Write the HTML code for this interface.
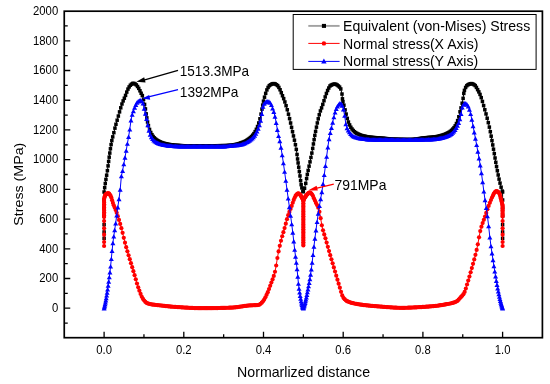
<!DOCTYPE html>
<html><head><meta charset="utf-8"><style>
html,body{margin:0;padding:0;background:#fff;}
body{width:550px;height:384px;overflow:hidden;}
svg{display:block;}
text{font-family:"Liberation Sans",Arial,sans-serif;fill:#000;}
</style></head><body>
<svg width="550" height="384" viewBox="0 0 550 384">
<rect x="64.25" y="11.2" width="478.15" height="326.5" fill="none" stroke="#000" stroke-width="1.7"/>
<path d="M64.25 323.06h3.5M64.25 308.2h6M64.25 293.34h3.5M64.25 278.49h6M64.25 263.63h3.5M64.25 248.78h6M64.25 233.93h3.5M64.25 219.07h6M64.25 204.22h3.5M64.25 189.36h6M64.25 174.5h3.5M64.25 159.65h6M64.25 144.8h3.5M64.25 129.94h6M64.25 115.09h3.5M64.25 100.23h6M64.25 85.38h3.5M64.25 70.52h6M64.25 55.67h3.5M64.25 40.81h6M64.25 25.95h3.5M104.1 337.7v-6M143.95 337.7v-3.5M183.8 337.7v-6M223.65 337.7v-3.5M263.5 337.7v-6M303.35 337.7v-3.5M343.2 337.7v-6M383.05 337.7v-3.5M422.9 337.7v-6M462.75 337.7v-3.5M502.6 337.7v-6" stroke="#000" stroke-width="1.3" fill="none"/>
<g font-size="12"><text x="58.2" y="311.95" text-anchor="end" textLength="6.28" lengthAdjust="spacingAndGlyphs">0</text><text x="58.2" y="282.24" text-anchor="end" textLength="18.85" lengthAdjust="spacingAndGlyphs">200</text><text x="58.2" y="252.53" text-anchor="end" textLength="18.85" lengthAdjust="spacingAndGlyphs">400</text><text x="58.2" y="222.82" text-anchor="end" textLength="18.85" lengthAdjust="spacingAndGlyphs">600</text><text x="58.2" y="193.11" text-anchor="end" textLength="18.85" lengthAdjust="spacingAndGlyphs">800</text><text x="58.2" y="163.4" text-anchor="end" textLength="25.14" lengthAdjust="spacingAndGlyphs">1000</text><text x="58.2" y="133.69" text-anchor="end" textLength="25.14" lengthAdjust="spacingAndGlyphs">1200</text><text x="58.2" y="103.98" text-anchor="end" textLength="25.14" lengthAdjust="spacingAndGlyphs">1400</text><text x="58.2" y="74.27" text-anchor="end" textLength="25.14" lengthAdjust="spacingAndGlyphs">1600</text><text x="58.2" y="44.56" text-anchor="end" textLength="25.14" lengthAdjust="spacingAndGlyphs">1800</text><text x="58.2" y="14.85" text-anchor="end" textLength="25.14" lengthAdjust="spacingAndGlyphs">2000</text><text x="104.1" y="354.1" text-anchor="middle" textLength="15.71" lengthAdjust="spacingAndGlyphs">0.0</text><text x="183.8" y="354.1" text-anchor="middle" textLength="15.71" lengthAdjust="spacingAndGlyphs">0.2</text><text x="263.5" y="354.1" text-anchor="middle" textLength="15.71" lengthAdjust="spacingAndGlyphs">0.4</text><text x="343.2" y="354.1" text-anchor="middle" textLength="15.71" lengthAdjust="spacingAndGlyphs">0.6</text><text x="422.9" y="354.1" text-anchor="middle" textLength="15.71" lengthAdjust="spacingAndGlyphs">0.8</text><text x="502.6" y="354.1" text-anchor="middle" textLength="15.71" lengthAdjust="spacingAndGlyphs">1.0</text></g>
<text x="303.6" y="376.6" font-size="13.9" text-anchor="middle" textLength="133" lengthAdjust="spacingAndGlyphs">Normarlized distance</text>
<text transform="translate(23.1 184.2) rotate(-90)" font-size="13.2" text-anchor="middle" textLength="83" lengthAdjust="spacingAndGlyphs">Stress (MPa)</text>
<defs>
<marker id="ms" markerWidth="6" markerHeight="6" refX="3" refY="3" markerUnits="userSpaceOnUse"><rect x="1.25" y="1.25" width="3.5" height="3.5" fill="#000"/></marker>
<marker id="mc" markerWidth="6" markerHeight="6" refX="3" refY="3" markerUnits="userSpaceOnUse"><circle cx="3" cy="3" r="2.1" fill="#f00"/></marker>
<marker id="mt" markerWidth="7" markerHeight="7" refX="3.5" refY="3.5" markerUnits="userSpaceOnUse"><path d="M3.5 1.3L6 5.7H1Z" fill="#00f"/></marker>
</defs>
<polyline points="104.1,238.3 104.1,232 104.1,224.7 104.1,216 104.1,208 104.1,200 104.1,192 104.67,187.73 105.27,183.51 105.92,179.41 106.64,175.22 107.4,170.66 108.07,165.88 108.64,161.42 109.19,157.17 109.79,153.06 110.43,148.77 111.1,144.6 111.83,140.63 112.72,136.89 113.86,132.68 114.93,128.16 115.95,124.27 117.15,120.21 118.35,116.04 119.55,111.88 120.75,107.82 121.95,104.02 123.15,100.92 124.35,98.21 125.55,95.38 126.75,92.11 127.95,89.1 129.15,86.94 130.35,85.24 131.55,84.16 132.75,83.41 133.95,83.41 135.15,83.99 136.35,84.92 137.55,86.5 138.75,88.39 139.95,90.78 141.15,93.25 142.35,95.57 143.55,99.37 144.58,104.38 145.44,108.91 146.2,113.89 146.83,117.87 147.56,121.99 148.41,125.57 149.54,129.4 150.74,132.48 151.94,134.68 153.14,136.45 154.34,137.86 155.54,138.98 156.74,139.92 157.94,140.72 159.14,141.39 160.34,141.95 161.54,142.45 162.74,142.89 163.94,143.27 165.14,143.6 166.34,143.87 167.54,144.12 168.74,144.36 169.94,144.57 171.14,144.76 172.34,144.93 173.54,145.07 174.74,145.18 175.94,145.27 177.14,145.36 178.34,145.44 179.54,145.52 180.74,145.59 181.94,145.66 183.14,145.72 184.34,145.78 185.54,145.82 186.74,145.86 187.94,145.88 189.14,145.9 190.34,145.9 191.54,145.9 192.74,145.9 193.94,145.9 195.14,145.89 196.34,145.89 197.54,145.89 198.74,145.88 199.94,145.88 201.14,145.87 202.34,145.87 203.54,145.86 204.74,145.85 205.94,145.84 207.14,145.83 208.34,145.82 209.54,145.81 210.74,145.8 211.94,145.79 213.14,145.78 214.34,145.76 215.54,145.75 216.74,145.73 217.94,145.72 219.14,145.7 220.34,145.68 221.54,145.66 222.74,145.64 223.94,145.62 225.14,145.6 226.34,145.56 227.54,145.49 228.74,145.39 229.94,145.28 231.14,145.14 232.34,144.99 233.54,144.82 234.74,144.64 235.94,144.42 237.14,144.13 238.34,143.77 239.54,143.38 240.74,142.99 241.94,142.57 243.14,142.11 244.34,141.6 245.54,141.03 246.74,140.33 247.94,139.53 249.14,138.63 250.34,137.63 251.54,136.5 252.74,135.19 253.94,133.6 255.14,131.62 256.34,129.29 257.54,126.49 258.74,122.99 259.94,118.81 261.04,114.11 261.96,109.14 262.68,105.06 263.5,101.12 264.51,97.18 265.68,93.34 266.88,89.93 268.08,87.42 269.28,85.68 270.48,84.8 271.68,84.13 272.88,83.7 274.08,83.62 275.28,83.99 276.48,84.71 277.68,85.66 278.88,87.43 280.08,89.76 281.28,92.67 282.48,95.73 283.68,98.64 284.88,101.95 286.08,105.7 287.28,109.75 288.48,114.2 289.57,118.63 290.6,123.01 291.57,127.37 292.53,131.7 293.47,135.93 294.45,140.19 295.43,144.71 296.3,149.4 297.04,154.49 297.57,158.97 298.1,162.95 298.71,167.2 299.35,171.59 299.98,175.94 300.6,180.6 301.15,184.66 301.84,187.87 302.89,191.23 303.35,191.8 304.55,188.29 305.74,183.4 306.6,178.56 307.32,174.41 308.15,170.41 309.08,166.15 310.01,161.85 310.94,157.48 311.84,153.09 312.69,148.45 313.42,143.94 314.12,139.61 314.82,135.43 315.59,131.4 316.45,127.14 317.33,122.94 318.25,118.8 319.26,114.77 320.39,110.93 321.59,107.87 322.79,104.4 323.99,100.73 325.19,96.91 326.39,93.46 327.59,90.47 328.79,88.01 329.99,85.97 331.19,85.09 332.39,84.57 333.59,84.23 334.79,84.1 335.99,84.35 337.19,85.02 338.39,85.96 339.59,87.08 340.79,88.94 341.99,94.05 342.44,98.82 342.93,101.65 343.91,105.18 345.11,109.9 346.16,114.08 347.29,118.37 348.42,122.03 349.62,124.92 350.82,127.25 352.02,129.02 353.22,130.49 354.42,131.7 355.62,132.62 356.82,133.34 358.02,133.98 359.22,134.54 360.42,135.02 361.62,135.44 362.82,135.78 364.02,136.08 365.22,136.34 366.42,136.58 367.62,136.8 368.82,136.99 370.02,137.15 371.22,137.3 372.42,137.42 373.62,137.53 374.82,137.62 376.02,137.71 377.22,137.8 378.42,137.88 379.62,137.97 380.82,138.07 382.02,138.17 383.22,138.28 384.42,138.4 385.62,138.51 386.82,138.63 388.02,138.74 389.22,138.84 390.42,138.94 391.62,139.03 392.82,139.1 394.02,139.16 395.22,139.21 396.42,139.24 397.62,139.28 398.82,139.32 400.02,139.35 401.22,139.38 402.42,139.41 403.62,139.43 404.82,139.45 406.02,139.47 407.22,139.49 408.42,139.5 409.62,139.5 410.82,139.49 412.02,139.44 413.22,139.35 414.42,139.24 415.62,139.1 416.82,138.94 418.02,138.77 419.22,138.59 420.42,138.41 421.62,138.23 422.82,138.06 424.02,137.91 425.22,137.78 426.42,137.66 427.62,137.56 428.82,137.46 430.02,137.36 431.22,137.26 432.42,137.15 433.62,137.02 434.82,136.88 436.02,136.71 437.22,136.49 438.42,136.24 439.62,135.94 440.82,135.62 442.02,135.26 443.22,134.88 444.42,134.46 445.62,133.99 446.82,133.44 448.02,132.82 449.22,132.11 450.42,131.3 451.62,130.29 452.82,129.07 454.02,127.63 455.22,125.84 456.42,123.53 457.62,120.58 458.82,116.76 460.02,111.78 461,107.93 462.15,103.2 463.11,98.35 463.8,93.42 464.44,90.35 465.63,87.46 466.83,85.66 468.03,84.71 469.23,84.11 470.43,83.71 471.63,83.61 472.83,83.96 474.03,84.67 475.23,85.61 476.43,87.42 477.63,89.66 478.83,91.87 480.03,94.41 481.23,97.65 482.43,101.44 483.63,105.59 484.82,109.75 486.02,113.94 487.18,118.24 488.31,122.64 489.36,127.12 490.32,131.71 491.17,136.18 491.97,140.58 492.74,144.92 493.52,149.22 494.3,153.64 495.05,158 495.8,162.31 496.55,166.56 497.34,170.74 498.19,174.99 499.06,179.12 500.02,183.12 501.1,187.18 502.29,191.1 502.6,192 502.6,200 502.6,208 502.6,216 502.6,224.7 502.6,232 502.6,238.3" fill="none" stroke="#000" stroke-width="1" marker-start="url(#ms)" marker-mid="url(#ms)" marker-end="url(#ms)"/>
<polyline points="104.1,246 104.1,242 104.1,234.7 104.1,228.3 104.1,221 104.1,217 104.1,215.4 104.1,213.8 104.1,212.2 104.1,210.6 104.1,209 104.1,207.4 104.1,205.8 104.1,204.2 104.1,202.6 104.1,201 104.1,199 104.4,197.73 104.72,196.55 105.06,195.58 105.42,194.93 105.81,194.4 106.22,193.98 106.65,193.73 107.12,193.53 107.61,193.37 108.13,193.3 108.69,193.45 109.29,193.95 109.92,194.75 110.6,195.76 111.32,197.57 112.08,200.19 112.89,202.88 113.76,205.24 114.68,207.61 115.66,210.09 116.7,212.87 117.81,216.14 118.99,219.9 120.19,223.95 121.39,228.21 122.59,232.82 123.79,237.79 124.99,242.71 126.19,247.21 127.39,251.32 128.59,255.26 129.79,259.18 130.99,263.17 132.19,267.16 133.39,271.15 134.59,275.14 135.79,279.3 136.99,283.48 138.19,287.34 139.39,290.71 140.59,293.92 141.79,296.74 142.99,298.89 144.19,300.52 145.39,301.89 146.59,302.88 147.79,303.43 148.99,303.8 150.19,304.1 151.39,304.34 152.59,304.54 153.79,304.72 154.99,304.87 156.19,305 157.39,305.13 158.59,305.24 159.79,305.37 160.99,305.5 162.19,305.63 163.39,305.77 164.59,305.91 165.79,306.05 166.99,306.18 168.19,306.31 169.39,306.44 170.59,306.55 171.79,306.66 172.99,306.76 174.19,306.84 175.39,306.92 176.59,307.01 177.79,307.09 178.99,307.17 180.19,307.25 181.39,307.33 182.59,307.41 183.79,307.49 184.99,307.57 186.19,307.64 187.39,307.71 188.59,307.77 189.79,307.84 190.99,307.9 192.19,307.95 193.39,308 194.59,308.05 195.79,308.09 196.99,308.12 198.19,308.15 199.39,308.17 200.59,308.19 201.79,308.2 202.99,308.2 204.19,308.2 205.39,308.19 206.59,308.19 207.79,308.18 208.99,308.17 210.19,308.15 211.39,308.14 212.59,308.12 213.79,308.1 214.99,308.08 216.19,308.06 217.39,308.03 218.59,308.01 219.79,307.98 220.99,307.95 222.19,307.91 223.39,307.88 224.59,307.84 225.79,307.81 226.99,307.77 228.19,307.73 229.39,307.69 230.59,307.64 231.79,307.6 232.99,307.54 234.19,307.45 235.39,307.33 236.59,307.19 237.79,307.03 238.99,306.86 240.19,306.67 241.39,306.49 242.59,306.3 243.79,306.12 244.99,305.94 246.19,305.78 247.39,305.64 248.59,305.51 249.79,305.41 250.99,305.34 252.19,305.3 253.39,305.26 254.59,305.22 255.79,305.18 256.99,305.11 258.19,305.01 259.39,304.64 260.59,303.78 261.79,302.63 262.99,301.33 264.19,299.51 265.39,297.27 266.59,294.82 267.79,292.15 268.99,289.11 270.19,285.87 271.39,282.61 272.59,279.44 273.79,275.96 274.99,271.73 276.19,265.51 277.39,257.98 278.59,251.45 279.79,245.81 280.99,240.73 282.19,236.25 283.39,232.14 284.59,228.03 285.79,223.63 286.99,219.21 288.19,215.22 289.39,211.9 290.59,208.89 291.71,205.91 292.76,202.76 293.74,199.95 294.66,197.73 295.52,195.92 296.32,194.82 297.07,194 297.78,193.5 298.43,193.43 299.05,193.74 299.63,194.23 300.17,194.77 300.67,195.41 301.14,196.23 301.58,197.05 302,197.76 302.38,198.4 302.75,199 303.09,199.56 303.35,200" fill="none" stroke="#f00" stroke-width="1" marker-start="url(#mc)" marker-mid="url(#mc)" marker-end="url(#mc)"/>
<polyline points="303.35,200 303.35,201.62 303.35,203.25 303.35,204.88 303.35,206.5 303.35,208.12 303.35,209.75 303.35,211.38 303.35,213 303.35,214.62 303.35,216.25 303.35,217.88 303.35,219.5 303.35,221.12 303.35,222.75 303.35,224.38 303.35,226 303.35,227.62 303.35,229.25 303.35,230.88 303.35,232.5 303.35,234.12 303.35,235.75 303.35,237.38 303.35,239 303.35,240.62 303.35,242.25 303.35,243.88 303.35,245.5" fill="none" stroke="#f00" stroke-width="1" marker-start="url(#mc)" marker-mid="url(#mc)" marker-end="url(#mc)"/>
<polyline points="303.35,200 303.65,199.46 303.97,198.9 304.31,198.33 304.67,197.75 305.06,197.17 305.47,196.56 305.9,195.94 306.37,195.31 306.86,194.73 307.38,194.23 307.94,193.72 308.54,193.21 309.17,192.79 309.85,192.6 310.57,192.83 311.33,193.53 312.14,194.53 313.01,196.12 313.93,198.29 314.91,200.61 315.95,202.97 317.06,205.09 318.24,207.64 319.44,211.77 320.64,218.16 321.84,225.35 323.04,230.31 324.24,234.38 325.44,238.35 326.64,242.6 327.84,246.84 329.04,251.05 330.24,255.2 331.44,259.3 332.64,263.37 333.84,267.43 335.04,271.51 336.24,275.63 337.44,279.72 338.64,283.68 339.84,287.67 341.04,291.85 342.24,295.47 343.44,297.79 344.64,299.22 345.84,300.33 347.04,301.13 348.24,301.67 349.44,302.12 350.64,302.53 351.84,302.88 353.04,303.2 354.24,303.48 355.44,303.73 356.64,303.96 357.84,304.16 359.04,304.35 360.24,304.54 361.44,304.71 362.64,304.88 363.84,305.03 365.04,305.18 366.24,305.32 367.44,305.45 368.64,305.57 369.84,305.69 371.04,305.8 372.24,305.91 373.44,306.02 374.64,306.12 375.84,306.22 377.04,306.31 378.24,306.4 379.44,306.5 380.64,306.59 381.84,306.69 383.04,306.79 384.24,306.89 385.44,306.99 386.64,307.08 387.84,307.18 389.04,307.27 390.24,307.35 391.44,307.43 392.64,307.51 393.84,307.58 395.04,307.64 396.24,307.69 397.44,307.73 398.64,307.77 399.84,307.79 401.04,307.8 402.24,307.8 403.44,307.79 404.64,307.78 405.84,307.76 407.04,307.73 408.24,307.7 409.44,307.66 410.64,307.62 411.84,307.57 413.04,307.52 414.24,307.46 415.44,307.4 416.64,307.33 417.84,307.27 419.04,307.19 420.24,307.12 421.44,307.04 422.64,306.96 423.84,306.88 425.04,306.8 426.24,306.71 427.44,306.63 428.64,306.54 429.84,306.45 431.04,306.36 432.24,306.26 433.44,306.14 434.64,306.02 435.84,305.88 437.04,305.73 438.24,305.57 439.44,305.4 440.64,305.22 441.84,305.03 443.04,304.84 444.24,304.63 445.44,304.42 446.64,304.21 447.84,304 449.04,303.77 450.24,303.51 451.44,303.23 452.64,302.91 453.84,302.53 455.04,302.1 456.24,301.61 457.44,300.92 458.64,299.71 459.84,298.26 461.04,296.92 462.24,295.67 463.44,294.18 464.64,291.96 465.84,288.49 467.04,284.49 468.24,280.61 469.44,276.56 470.64,272.36 471.84,268.06 473.04,263.78 474.24,259.42 475.44,254.85 476.64,249.91 477.84,244.28 479.04,237.32 480.24,231.05 481.44,226.69 482.64,223.09 483.84,219.85 485.04,216.55 486.24,212.97 487.44,209.35 488.64,205.92 489.84,202.78 490.96,200.01 492.01,197.61 492.99,195.46 493.91,193.56 494.77,192.33 495.57,191.53 496.32,191.2 497.03,191.34 497.68,191.69 498.3,192.18 498.88,192.77 499.42,193.46 499.92,194.92 500.39,196.78 500.83,198.56 501.25,200.09 501.63,201.58 502,203.01 502.34,204.4 502.6,205.5 502.6,207 502.6,208.6 502.6,210.2 502.6,211.8 502.6,213.4 502.6,215 502.6,216.6 502.6,221 502.6,228.3 502.6,234.7 502.6,242 502.6,246" fill="none" stroke="#f00" stroke-width="1" marker-start="url(#mc)" marker-mid="url(#mc)" marker-end="url(#mc)"/>
<polyline points="104.1,308.2 104.4,307.03 104.72,305.67 105.06,304.11 105.42,302.33 105.81,300.3 106.22,298 106.65,295.4 107.12,292.48 107.61,289.21 108.13,285.57 108.69,281.53 109.29,277.08 109.92,272.2 110.6,266.33 111.32,258.92 112.08,250.78 112.89,243.07 113.76,236.41 114.68,230.04 115.66,223.21 116.7,215.39 117.81,207.19 118.99,199.07 120.19,189.47 121.39,176.07 122.59,170.68 123.79,164.13 124.99,157.5 126.19,150.62 127.39,143.67 128.59,136.81 129.79,129.33 130.99,120.25 132.19,114.61 133.39,111.02 134.59,107.55 135.79,104.78 136.99,102.54 138.19,101.31 139.39,100.53 140.59,100.2 141.79,100.93 142.99,103.4 144.19,108.57 145.39,113.51 146.59,118.71 147.79,125.03 148.99,130.45 150.19,134.66 151.39,137.01 152.59,138.86 153.79,140.27 154.99,141.29 156.19,142.08 157.39,142.76 158.59,143.32 159.79,143.77 160.99,144.13 162.19,144.42 163.39,144.68 164.59,144.92 165.79,145.12 166.99,145.3 168.19,145.46 169.39,145.59 170.59,145.7 171.79,145.79 172.99,145.89 174.19,145.97 175.39,146.05 176.59,146.11 177.79,146.16 178.99,146.19 180.19,146.2 181.39,146.2 182.59,146.2 183.79,146.2 184.99,146.2 186.19,146.2 187.39,146.2 188.59,146.2 189.79,146.2 190.99,146.2 192.19,146.2 193.39,146.2 194.59,146.2 195.79,146.2 196.99,146.2 198.19,146.2 199.39,146.2 200.59,146.2 201.79,146.2 202.99,146.2 204.19,146.2 205.39,146.2 206.59,146.2 207.79,146.2 208.99,146.2 210.19,146.2 211.39,146.2 212.59,146.2 213.79,146.2 214.99,146.2 216.19,146.2 217.39,146.2 218.59,146.2 219.79,146.2 220.99,146.2 222.19,146.2 223.39,146.2 224.59,146.2 225.79,146.17 226.99,146.04 228.19,145.86 229.39,145.68 230.59,145.54 231.79,145.43 232.99,145.33 234.19,145.25 235.39,145.15 236.59,145.06 237.79,144.94 238.99,144.8 240.19,144.63 241.39,144.39 242.59,144.03 243.79,143.56 244.99,143.01 246.19,142.41 247.39,141.77 248.59,141.08 249.79,140.29 250.99,139.36 252.19,138.3 253.39,137.07 254.59,135.52 255.79,133.65 256.99,131.42 258.19,128.53 259.39,124.99 260.59,120.53 261.79,113.91 262.99,106.66 264.19,103.54 265.39,102.23 266.59,101.53 267.79,101.21 268.99,101.54 270.19,102.63 271.39,104.86 272.59,108.37 273.79,111.78 274.99,116.43 276.19,122.81 277.39,129.73 278.59,135.88 279.79,140.99 280.99,147.49 282.19,155.08 283.39,163.17 284.59,171.64 285.79,180.62 286.99,189.64 288.19,198.37 289.39,206.96 290.59,215.65 291.71,224.1 292.76,232.48 293.74,241.25 294.66,249.58 295.52,256.5 296.32,262.67 297.07,269.08 297.78,276.56 298.43,283.58 299.05,288.62 299.63,292.34 300.17,295.68 300.67,298.6 301.14,301.11 301.58,303.2 302,304.89 302.38,306.21 302.75,307.19 303.09,307.86 303.35,308.2 303.65,307.37 303.97,306.42 304.31,305.33 304.67,304.1 305.06,302.7 305.47,301.14 305.9,299.34 306.37,297.23 306.86,294.82 307.38,292.15 307.94,289.25 308.54,286.15 309.17,282.75 309.85,278.93 310.57,274.51 311.33,269.21 312.14,262.58 313.01,254.88 313.93,246.63 314.91,238.55 315.95,230.32 317.06,221.86 318.24,213.43 319.44,205.85 320.64,199.04 321.84,191.99 323.04,183.87 324.24,174.92 325.44,165.81 326.64,156.62 327.84,147.19 329.04,139 330.24,132.91 331.44,127.79 332.64,122.57 333.84,117.11 335.04,112.34 336.24,108.74 337.44,106.19 338.64,104.48 339.84,103.3 341.04,103.39 342.24,105.45 343.44,109.27 344.64,115.65 345.84,123.98 347.04,127.99 348.24,130.39 349.44,132.16 350.64,133.71 351.84,135.03 353.04,136 354.24,136.58 355.44,137.03 356.64,137.41 357.84,137.73 359.04,137.99 360.24,138.21 361.44,138.4 362.64,138.58 363.84,138.76 365.04,138.92 366.24,139.06 367.44,139.19 368.64,139.29 369.84,139.36 371.04,139.4 372.24,139.41 373.44,139.43 374.64,139.44 375.84,139.45 377.04,139.46 378.24,139.47 379.44,139.48 380.64,139.49 381.84,139.5 383.04,139.51 384.24,139.52 385.44,139.53 386.64,139.54 387.84,139.54 389.04,139.55 390.24,139.56 391.44,139.56 392.64,139.57 393.84,139.57 395.04,139.58 396.24,139.58 397.44,139.58 398.64,139.59 399.84,139.59 401.04,139.59 402.24,139.59 403.44,139.6 404.64,139.6 405.84,139.6 407.04,139.6 408.24,139.6 409.44,139.6 410.64,139.6 411.84,139.6 413.04,139.59 414.24,139.58 415.44,139.57 416.64,139.55 417.84,139.54 419.04,139.52 420.24,139.5 421.44,139.47 422.64,139.45 423.84,139.42 425.04,139.4 426.24,139.37 427.44,139.33 428.64,139.29 429.84,139.24 431.04,139.18 432.24,139.12 433.44,139.04 434.64,138.96 435.84,138.86 437.04,138.72 438.24,138.54 439.44,138.32 440.64,138.07 441.84,137.79 443.04,137.49 444.24,137.16 445.44,136.78 446.64,136.34 447.84,135.82 449.04,135.23 450.24,134.56 451.44,133.71 452.64,132.66 453.84,131.41 455.04,129.87 456.24,127.85 457.44,125.51 458.64,122.76 459.84,119.02 461.04,113.72 462.24,107.4 463.44,104.66 464.64,103.15 465.84,103.25 467.04,104.5 468.24,106.32 469.44,109.46 470.64,113.83 471.84,119.51 473.04,125.97 474.24,132.28 475.44,138.52 476.64,144.9 477.84,151.49 479.04,158.19 480.24,165.21 481.44,173.02 482.64,182.02 483.84,191.38 485.04,200.06 486.24,207.9 487.44,216.08 488.64,226.06 489.84,237.21 490.96,246.11 492.01,253.32 492.99,259.93 493.91,265.94 494.77,271.39 495.57,276.3 496.32,280.72 497.03,284.68 497.68,288.22 498.3,291.37 498.88,294.17 499.42,296.66 499.92,298.85 500.39,300.79 500.83,302.49 501.25,303.99 501.63,305.31 502,306.46 502.34,307.46 502.6,308.2" fill="none" stroke="#00f" stroke-width="1" marker-start="url(#mt)" marker-mid="url(#mt)" marker-end="url(#mt)"/>
<rect x="293.2" y="14.5" width="242.9" height="54.9" fill="#fff" stroke="#000" stroke-width="1"/>
<path d="M308.3 25.9H339.6" stroke="#a2a2a2" stroke-width="1.9"/>
<rect x="321.9" y="23.9" width="4.1" height="4" fill="#000"/>
<text x="343.0" y="31" font-size="14.1">Equivalent (von-Mises) Stress</text>
<path d="M308.3 43.4H339.6" stroke="#f00" stroke-width="1.0"/>
<circle cx="323.9" cy="43.4" r="2.2" fill="#f00"/>
<text x="343.0" y="48.6" font-size="14.1">Normal stress(X Axis)</text>
<path d="M308.3 61.4H339.6" stroke="#00f" stroke-width="1.0"/>
<path d="M323.9 58.5L326.6 63.4H321.2Z" fill="#00f"/>
<text x="343.0" y="66.3" font-size="14.1">Normal stress(Y Axis)</text>
<path d="M178 70.4L143 80.4" stroke="#000" stroke-width="1.2"/><path d="M136.3 81.8L144.2 77.2L145.6 82.6Z" fill="#000"/>
<path d="M178 89.6L148.5 96.8" stroke="#00f" stroke-width="1.2"/><path d="M142.2 98.4L149.2 95.1L150.2 99.7Z" fill="#00f"/>
<path d="M333.8 184.1L316 188.4" stroke="#f00" stroke-width="1.3"/><path d="M308 190.4L316.6 185.8L317.8 190.5Z" fill="#f00"/>
<text x="179.8" y="76" font-size="13.9" textLength="69.3" lengthAdjust="spacingAndGlyphs">1513.3MPa</text>
<text x="179.8" y="96.6" font-size="13.9" textLength="58.7" lengthAdjust="spacingAndGlyphs">1392MPa</text>
<text x="334.5" y="189.6" font-size="14.5" textLength="51.9" lengthAdjust="spacingAndGlyphs">791MPa</text>
</svg>
</body></html>
